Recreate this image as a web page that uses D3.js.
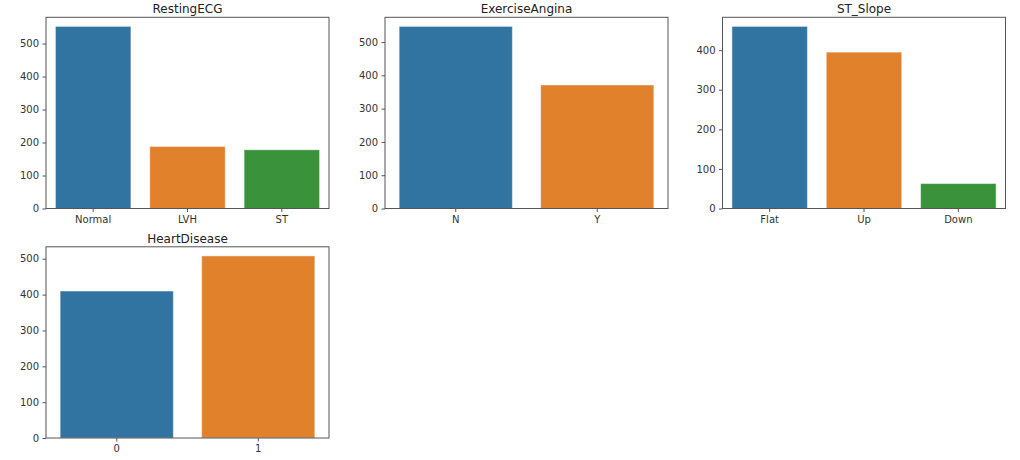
<!DOCTYPE html>
<html>
<head>
<meta charset="utf-8">
<script src="https://cdn.jsdelivr.net/npm/d3@7"></script>
<style>
    body { margin: 0; background: #fff; }
    svg { display: block; font-family: "DejaVu Sans", sans-serif; }
    .tick text { fill: #333; }
</style>
</head>
<body>
<svg id="chart" width="1020" height="460"></svg>
<script>
// counts per category
var restingCats = ['Normal', 'LVH', 'ST'];
var restingVals = [552, 188, 178];

var anginaCats = ['N', 'Y'];
var anginaVals = [547, 371];

var slopeCats = ['Flat', 'Up', 'Down'];
var slopeVals = [460, 395, 63];

var heartCats = ['0', '1'];
var heartVals = [410, 508];

var yTicks = [0, 100, 200, 300, 400, 500];

var palette = ['#3274a1', '#e1812c', '#3a923a'];

var svg = d3.select('#chart');

drawPanel('RestingECG', restingCats, restingVals, 46, 17.3);
drawPanel('ExerciseAngina', anginaCats, anginaVals, 385, 17.3);
drawPanel('ST_Slope', slopeCats, slopeVals, 722.5, 17.3);
drawPanel('HeartDisease', heartCats, heartVals, 46, 246.8);

function drawPanel(title, cats, vals, left, top) {
    var w = 283,
        h = 191.2;

    var g = svg.append('g')
        .attr('transform', 'translate(' + left + ',' + top + ')');

    // seaborn style: bars 0.8 wide, domain -0.5..n-0.5
    var x = d3.scaleBand()
        .domain(cats)
        .range([0, w])
        .paddingInner(0.2)
        .paddingOuter(0.1);

    var y = d3.scaleLinear()
        .domain([0, d3.max(vals) * 1.05])
        .range([h, 0]);

    g.selectAll('rect.bar')
        .data(vals)
        .enter()
        .append('rect')
        .attr('class', 'bar')
        .attr('x', function(d, i) { return x(cats[i]); })
        .attr('y', function(d) { return y(d); })
        .attr('width', x.bandwidth())
        .attr('height', function(d) { return h - y(d); })
        .attr('fill', function(d, i) { return palette[i]; })
        .attr('stroke', 'rgba(255,255,255,0.45)')
        .attr('stroke-width', 1);

    var yAxis = d3.axisLeft(y)
        .tickValues(yTicks.filter(function(t) { return t <= y.domain()[1]; }))
        .tickSize(3.5)
        .tickPadding(3.5);

    var xAxis = d3.axisBottom(x)
        .tickSize(3.5)
        .tickPadding(3.5);

    var ya = g.append('g').call(yAxis);
    var xa = g.append('g').attr('transform', 'translate(0,' + h + ')').call(xAxis);

    [ya, xa].forEach(function(a) {
        // d3 sets its own font on the axis group, put ours back
        a.attr('font-family', '"DejaVu Sans", sans-serif').attr('font-size', null);
        a.select('.domain').remove();
        a.selectAll('line').attr('stroke', '#555');
        a.selectAll('text').style('font-size', '10px');
    });

    // frame
    g.append('rect')
        .attr('width', w)
        .attr('height', h)
        .attr('fill', 'none')
        .attr('stroke', '#555')
        .attr('stroke-width', 1);

    g.append('text')
        .attr('x', w / 2)
        .attr('y', -4)
        .attr('text-anchor', 'middle')
        .style('font-size', '12px')
        .style('fill', '#222')
        .text(title);
}
</script>
</body>
</html>
